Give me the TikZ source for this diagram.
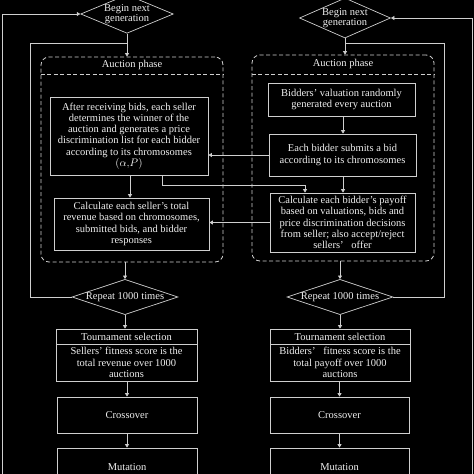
\documentclass[tikz,border=0pt]{standalone}
\usepackage{fontspec}
\setmainfont{Liberation Serif}
\usetikzlibrary{shapes.geometric,arrows.meta}
\definecolor{ln}{HTML}{CFCFCF}
\definecolor{tx}{HTML}{F0F0F0}
\tikzset{
  every node/.style={font=\fontsize{10.5}{11.3}\selectfont, text=tx},
  boxx/.style={draw=ln, line width=0.8pt, rectangle, inner sep=1pt, align=center},
  dia/.style={draw=ln, line width=0.7pt, diamond, inner sep=0pt, align=center},
  dbox/.style={draw=ln, line width=0.8pt, dashed, dash pattern=on 4pt off 2.5pt, rounded corners=8pt, rectangle},
  arr/.style={draw=ln, line width=0.7pt, -{Triangle[width=4pt,length=3.5pt]}},
  ln/.style={draw=ln, line width=0.7pt},
}
\begin{document}
\begin{tikzpicture}[x=1pt,y=-1pt]
\useasboundingbox (0,0) rectangle (474,474);
\fill[black] (0,0) rectangle (474,474);
\clip (0,0) rectangle (474,474);

% ---------- left column ----------
\node[dia, aspect=2.4, minimum width=90pt, minimum height=38pt] (beginL) at (127,14) {Begin next\\[-1pt]generation};
\node[dbox, minimum width=182pt, minimum height=205pt] (auctL) at (132,159.5) {};
\draw[ln, dashed, dash pattern=on 4pt off 2.5pt] (auctL.west |- 0,74) coordinate (sepL1) -- (auctL.east |- 0,74) coordinate (sepL2);
\node (phaseL) at (132,65) {Auction phase};
\node[boxx, minimum width=158pt, minimum height=78pt] (box1) at (129,136)
  {After receiving bids, each seller\\determines the winner of the\\auction and generates a price\\discrimination list for each bidder\\according to its chromosomes\\$(\alpha{,}P)$};
\node[boxx, minimum width=155pt, minimum height=52pt] (box2) at (131.5,224)
  {Calculate each seller's total\\revenue based on chromosomes,\\submitted bids, and bidder\\responses};
\node[dia, aspect=3.0, minimum width=100pt, minimum height=34pt] (repL) at (125,297) {Repeat 1000 times};
\node[boxx, minimum width=141pt, minimum height=15pt] (tsL) at (126.5,336.5) {Tournament selection};
\node[boxx, minimum width=141pt, minimum height=37pt] (fsL) at (126.5,362.5)
  {Sellers' fitness score is the\\total revenue over 1000\\auctions};
\node[boxx, minimum width=140pt, minimum height=36pt] (crossL) at (127,415) {Crossover};
\node[boxx, minimum width=140pt, minimum height=38pt] (mutL) at (127,467) {Mutation};

% ---------- right column ----------
\node[dia, aspect=2.3, minimum width=91pt, minimum height=40pt] (beginR) at (345,18) {Begin next\\[-1pt]generation};
\node[dbox, minimum width=182pt, minimum height=206pt] (auctR) at (343,158) {};
\draw[ln, dashed, dash pattern=on 4pt off 2.5pt] (auctR.west |- 0,74) coordinate (sepR1) -- (auctR.east |- 0,74) coordinate (sepR2);
\node (phaseR) at (343,64) {Auction phase};
\node[boxx, minimum width=147pt, minimum height=33pt] (R1) at (341.5,99.5)
  {Bidders’ valuation randomly\\generated every auction};
\node[boxx, minimum width=147pt, minimum height=42pt] (R2) at (342.5,155)
  {Each bidder submits a bid\\according to its chromosomes};
\node[boxx, minimum width=145pt, minimum height=59pt] (R3) at (342.5,222.5)
  {Calculate each bidder's payoff\\based on valuations, bids and\\price discrimination decisions\\from seller; also accept/reject\\sellers’\ \ \ offer};
\node[dia, aspect=3.0, minimum width=101pt, minimum height=34pt] (repR) at (340,297) {Repeat 1000 times};
\node[boxx, minimum width=140pt, minimum height=15pt] (tsR) at (340,336.5) {Tournament selection};
\node[boxx, minimum width=140pt, minimum height=37pt] (fsR) at (340,362.5)
  {Bidders’\ \ \ fitness score is the\\total payoff over 1000\\auctions};
\node[boxx, minimum width=139pt, minimum height=36pt] (crossR) at (339.5,415) {Crossover};
\node[boxx, minimum width=139pt, minimum height=38pt] (mutR) at (339.5,467) {Mutation};

% ---------- coordinates ----------
\coordinate (fbL) at (2,480);
\coordinate (fbR) at (472,480);
\coordinate (loopL) at (30,43);
\coordinate (jL) at (127,43);
\coordinate (loopR) at (444,43);
\coordinate (jR) at (345,43);

% ---------- connectors left ----------
\draw[arr] (fbL) |- (beginL.west);
\draw[arr] (beginL.south) -- (beginL.south |- auctL.north);
\draw[ln] (repL.west) -| (loopL) -- (jL);
\draw[arr] (box1.south -| 130,0) -- (box2.north -| 130,0);
\draw[arr] (repL.north |- auctL.south) -- (repL.north);
\draw[arr] (repL.south) -- (repL.south |- tsL.north);
\draw[arr] (fsL.south -| crossL.north) -- (crossL.north);
\draw[arr] (crossL.south) -- (mutL.north);

% ---------- connectors right ----------
\draw[arr] (fbR) |- (beginR.east);
\draw[arr] (beginR.south) -- (beginR.south |- auctR.north);
\draw[ln] (repR.east) -| (loopR) -- (jR);
\draw[arr] (R1.south -| 343,0) -- (R2.north -| 343,0);
\draw[arr] (R2.south -| 343,0) -- (R3.north -| 343,0);
\draw[arr] (repR.north |- auctR.south) -- (repR.north);
\draw[arr] (repR.south) -- (repR.south |- tsR.north);
\draw[arr] (fsR.south -| crossR.north) -- (crossR.north);
\draw[arr] (crossR.south) -- (mutR.north);

% ---------- cross connectors ----------
\draw[arr] (R2.west) -- (R2.west -| box1.east);
\draw[arr] ([xshift=-46pt]box1.south east) -- ++(0,10) -| ([xshift=-37.5pt]R3.north);
\draw[arr] (R3.west) -- (R3.west -| box2.east);
\end{tikzpicture}
\end{document}
